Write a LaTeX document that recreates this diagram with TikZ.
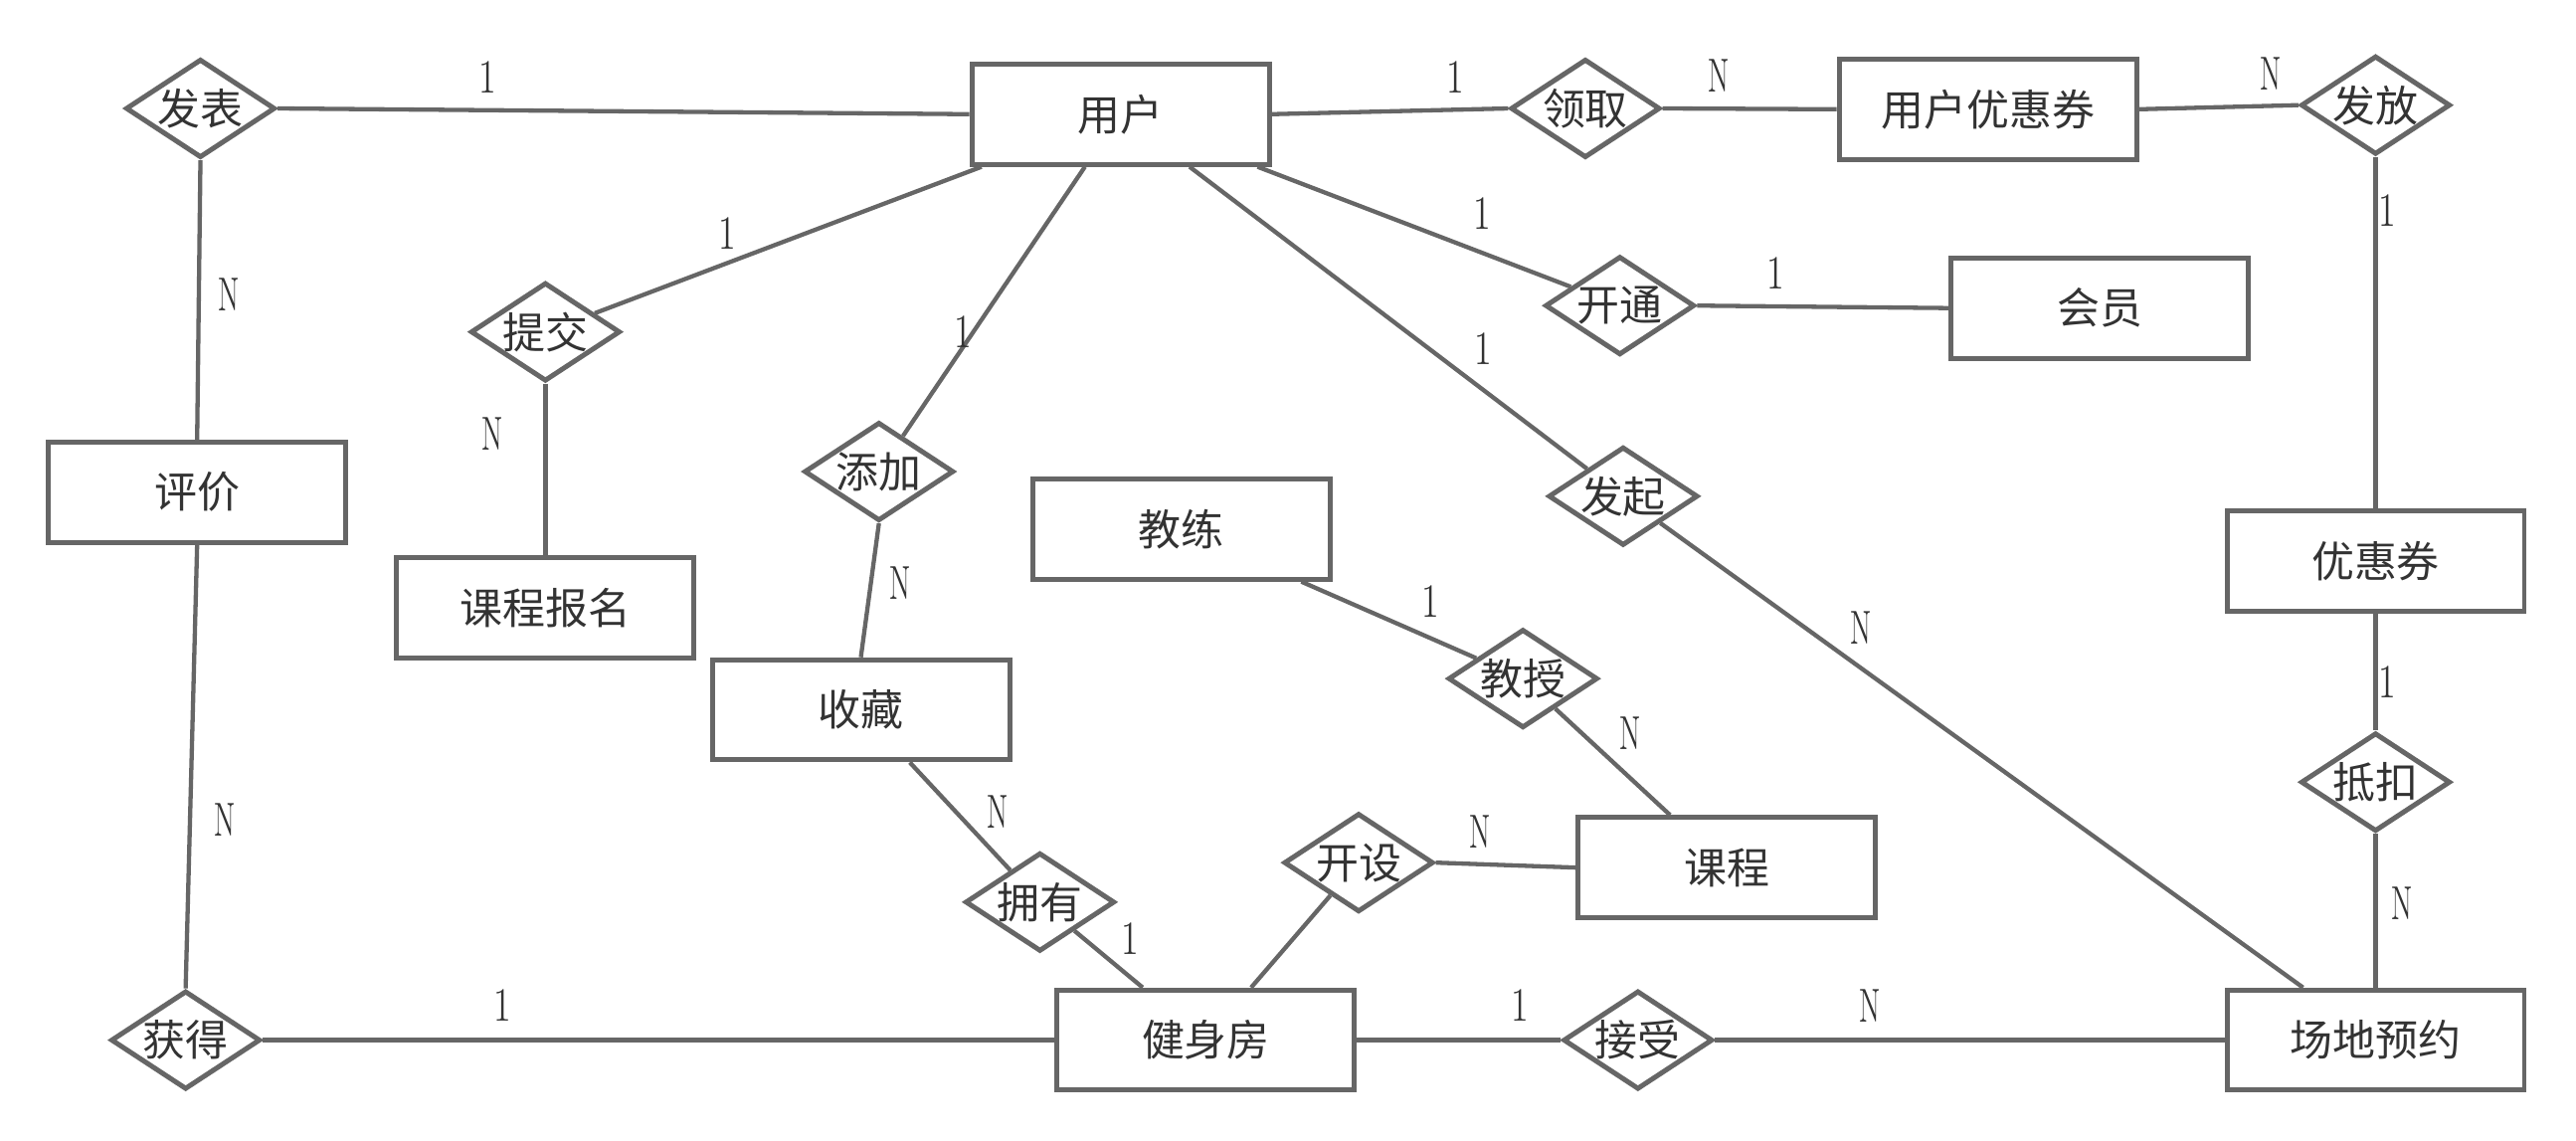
\documentclass[tikz,border=0pt]{standalone}
\usepackage{fontspec}
\newfontfamily\cjk{Noto Sans CJK SC}
\usetikzlibrary{shapes.geometric}
\definecolor{erline}{HTML}{666666}
\definecolor{ertext}{HTML}{333333}
% condensed cardinality letters
\newcommand\erone{\scalebox{0.75}[1]{1}}
\newcommand\ermany{\scalebox{0.6}[1]{N}}

\begin{document}
\begin{tikzpicture}[x=0.5pt,y=-0.5pt,
  entity/.style={draw=erline, line width=1.5pt, fill=white,
    minimum width=90.5pt, minimum height=30.5pt, inner sep=0pt,
    font=\cjk\fontsize{13}{13}\selectfont, text=ertext},
  relation/.style={diamond, aspect=1.5, draw=erline, line width=1.5pt, fill=white,
    minimum width=45.5pt, minimum height=30pt, inner sep=0pt,
    font=\cjk\fontsize{13}{13}\selectfont, text=ertext},
  link/.style={draw=erline, line width=1.3pt},
  card/.style={font=\fontsize{14.5}{14.5}\selectfont, text=ertext, inner sep=0pt}]

\useasboundingbox[fill=white] (0,0) rectangle (1568,694);

% entities
\node[entity] (user)    at (682,69.5)  {用户};
\node[entity] (ucoupon) at (1210,66.5) {用户优惠券};
\node[entity] (member)  at (1278,187.5){会员};
\node[entity] (review)  at (120,299.5) {评价};
\node[entity] (enroll)  at (332,370)   {课程报名};
\node[entity] (coach)   at (719,322)   {教练};
\node[entity] (fav)     at (524,432)   {收藏};
\node[entity] (coupon)  at (1446,341.5){优惠券};
\node[entity] (course)  at (1051,528)  {课程};
\node[entity] (gym)     at (734,633)   {健身房};
\node[entity] (booking) at (1446,633)  {场地预约};

% relationships
\node[relation] (post)    at (122,66)  {发表};
\node[relation] (claim)   at (965,66)  {领取};
\node[relation] (issue)   at (1446,64) {发放};
\node[relation] (submit)  at (332,202) {提交};
\node[relation] (open)    at (986,186) {开通};
\node[relation] (add)     at (535,287) {添加};
\node[relation] (start)   at (988,302) {发起};
\node[relation] (teach)   at (927,413) {教授};
\node[relation] (deduct)  at (1446,476){抵扣};
\node[relation] (own)     at (633,549) {拥有};
\node[relation] (offer)   at (827,525) {开设};
\node[relation] (gain)    at (113,633) {获得};
\node[relation] (accept)  at (997,633) {接受};

% connectors
\draw[link] (post.east) -- (user.west);
\draw[link] (post.south) -- (review.north);
\draw[link] (user.east) -- (claim.west);
\draw[link] (claim.east) -- (ucoupon.west);
\draw[link] (ucoupon.east) -- (issue.west);
\draw[link] (issue.south) -- (coupon.north);
\draw[link] (user) -- (submit);
\draw[link] (submit.south) -- (enroll.north);
\draw[link] (user) -- (add);
\draw[link] (add.south) -- (fav.north);
\draw[link] (user) -- (open);
\draw[link] (open.east) -- (member.west);
\draw[link] (user) -- (start);
\draw[link] (start) -- (booking);
\draw[link] (coupon.south) -- (deduct.north);
\draw[link] (deduct.south) -- (booking.north);
\draw[link] (coach) -- (teach);
\draw[link] (teach) -- (course);
\draw[link] (fav) -- (own);
\draw[link] (own) -- (gym);
\draw[link] (offer) -- (gym);
\draw[link] (offer.east) -- (course.west);
\draw[link] (gain.north) -- (review.south);
\draw[link] (gain.east) -- (gym.west);
\draw[link] (gym.east) -- (accept.west);
\draw[link] (accept.east) -- (booking.west);

% cardinalities
\node[card] (c1)  at (297,47)  {\erone};
\node[card] (c2)  at (139,179) {\ermany};
\node[card] (c3)  at (886,47)  {\erone};
\node[card] (c4)  at (1046,46) {\ermany};
\node[card] (c5)  at (1382,45) {\ermany};
\node[card] (c6)  at (1453,128){\erone};
\node[card] (c7)  at (443,142) {\erone};
\node[card] (c8)  at (300,264) {\ermany};
\node[card] (c9)  at (586,202) {\erone};
\node[card] (c10) at (548,355) {\ermany};
\node[card] (c11) at (902,130) {\erone};
\node[card] (c12) at (1081,166){\erone};
\node[card] (c13) at (903,212) {\erone};
\node[card] (c14) at (1133,382){\ermany};
\node[card] (c15) at (1453,415){\erone};
\node[card] (c16) at (1462,550){\ermany};
\node[card] (c17) at (871,366) {\erone};
\node[card] (c18) at (992,446) {\ermany};
\node[card] (c19) at (607,494) {\ermany};
\node[card] (c20) at (688,571) {\erone};
\node[card] (c21) at (901,506) {\ermany};
\node[card] (c22) at (137,499) {\ermany};
\node[card] (c23) at (306,612) {\erone};
\node[card] (c24) at (925,612) {\erone};
\node[card] (c25) at (1138,612){\ermany};
\end{tikzpicture}
\end{document}
